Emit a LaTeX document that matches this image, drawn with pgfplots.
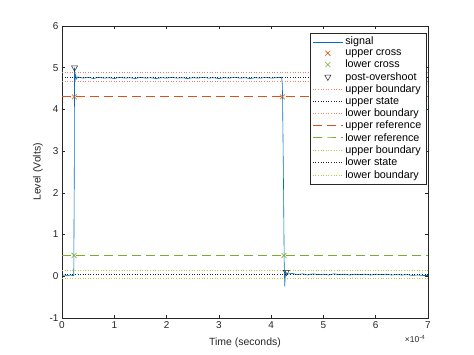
\documentclass[border=0pt]{standalone}
\usepackage{pgfplots}
\pgfplotsset{compat=1.18}
\usepackage{fontspec}
\setmainfont{Liberation Sans}
\definecolor{mblue}{rgb}{0,0.447,0.741}
\definecolor{mred}{rgb}{0.850,0.325,0.098}
\definecolor{mgreen}{rgb}{0.466,0.674,0.188}
\definecolor{mgray}{rgb}{0.15,0.15,0.15}
\definecolor{lred}{rgb}{0.93,0.50,0.40}
\definecolor{lyel}{rgb}{0.75,0.78,0.30}
\definecolor{dstate}{rgb}{0.10,0.12,0.25}
\pgfplotsset{myleg/.style={legend image code/.code={\draw[mark repeat=2,mark phase=2,##1] plot coordinates {(0bp,0bp) (15bp,0bp) (30bp,0bp)};}}}
\begin{document}
\begin{tikzpicture}
\useasboundingbox (-62bp,-37bp) rectangle (412bp,318bp);
\begin{axis}[
  at={(0bp,0bp)}, anchor=south west,
  scale only axis,
  width=366bp, height=292bp,
  xmin=0, xmax=7, ymin=-1, ymax=6,
  xtick={0,1,...,7}, ytick={-1,0,...,6},
  tick align=inside,
  major tick length=3bp,
  axis line style={mgray, line width=0.5pt},
  every tick/.style={mgray, line width=0.5pt},
  tick label style={font=\fontsize{10}{12}\selectfont, text=mgray},
  /pgf/number format/assume math mode=true,
  xlabel={Time (seconds)},
  ylabel={Level (Volts)},
  label style={font=\fontsize{10.5}{12}\selectfont, text=mgray},
  xlabel style={yshift=-3bp},
  ylabel style={yshift=0bp},
  legend cell align=left,
  legend style={at={(0.9945,0.976)}, anchor=north east, draw=mgray,
    font=\fontsize{10.8}{12}\selectfont, row sep=-0.9bp,
    inner xsep=2.5bp, inner ysep=2bp,
    /tikz/every even column/.append style={column sep=1bp}},
  myleg,
]
\addplot[draw=mblue, line width=0.6pt] coordinates {
(0,0.02) (0.05,0.03) (0.1,0.01) (0.15,0.03) (0.2,0.02) (0.225,0.02)
(0.235,2.5) (0.24,5.0) (0.25,4.68) (0.26,4.82) (0.28,4.73) (0.3,4.78)
(0.4,4.75) (0.5,4.77) (0.6,4.74) (0.7,4.77) (0.8,4.75) (0.9,4.76) (1.0,4.74)
(1.1,4.77) (1.2,4.75) (1.3,4.76) (1.4,4.74) (1.5,4.77) (1.6,4.75) (1.7,4.76)
(1.8,4.74) (1.9,4.76) (2.0,4.75) (2.1,4.77) (2.2,4.75) (2.3,4.76) (2.4,4.74)
(2.5,4.76) (2.6,4.75) (2.7,4.77) (2.8,4.75) (2.9,4.76) (3.0,4.74) (3.1,4.76)
(3.2,4.75) (3.3,4.77) (3.4,4.75) (3.5,4.76) (3.6,4.74) (3.7,4.76) (3.8,4.75)
(3.9,4.77) (4.0,4.75) (4.1,4.76) (4.2,4.77)
(4.215,4.6) (4.235,2.4) (4.25,0.3) (4.26,-0.24) (4.275,0.12) (4.3,0.05)
(4.4,0.07) (4.5,0.04) (4.6,0.06) (4.7,0.03) (4.8,0.06) (4.9,0.04) (5.0,0.05)
(5.1,0.03) (5.2,0.06) (5.3,0.04) (5.4,0.05) (5.5,0.03) (5.6,0.05) (5.7,0.04)
(5.8,0.05) (5.9,0.03) (6.0,0.05) (6.1,0.04) (6.2,0.05) (6.3,0.03) (6.4,0.04)
(6.5,0.03) (6.6,0.04) (6.7,0.02) (6.8,0.03) (6.9,0.02) (7.0,0.02)};
\addlegendentry{signal}
\addplot[only marks, mark=x, color=mred, mark size=3.5bp, line width=0.6pt, myleg]
  coordinates {(0.237,4.3) (4.215,4.3)};
\addlegendentry{upper cross}
\addplot[only marks, mark=x, color=mgreen, mark size=3.5bp, line width=0.6pt, myleg]
  coordinates {(0.23,0.5) (4.245,0.5)};
\addlegendentry{lower cross}
\addplot[only marks, mark=triangle, mark options={rotate=180}, color=mgray, mark size=3.5bp, line width=0.5pt, myleg]
  coordinates {(0.24,5.0) (4.29,0.1)};
\addlegendentry{post-overshoot}
\addplot[draw=lred, dotted, line width=0.6pt] coordinates {(0,4.88) (7,4.88)};
\addlegendentry{upper boundary}
\addplot[draw=dstate, dotted, line width=0.6pt] coordinates {(0,4.78) (7,4.78)};
\addlegendentry{upper state}
\addplot[draw=lred, dotted, line width=0.6pt] coordinates {(0,4.68) (7,4.68)};
\addlegendentry{lower boundary}
\addplot[draw=mred, dash pattern=on 9bp off 5bp, line width=1pt] coordinates {(0,4.3) (7,4.3)};
\addlegendentry{upper reference}
\addplot[draw=mgreen, dash pattern=on 9bp off 5bp, line width=1pt] coordinates {(0,0.5) (7,0.5)};
\addlegendentry{lower reference}
\addplot[draw=lyel, dotted, line width=0.6pt] coordinates {(0,0.14) (7,0.14)};
\addlegendentry{upper boundary}
\addplot[draw=dstate, dotted, line width=0.6pt] coordinates {(0,0.04) (7,0.04)};
\addlegendentry{lower state}
\addplot[draw=lyel, dotted, line width=0.6pt] coordinates {(0,-0.06) (7,-0.06)};
\addlegendentry{lower boundary}
\end{axis}
\node[anchor=north, inner sep=0pt, font=\fontsize{8.5}{10}\selectfont, text=mgray] at (353bp,-17bp) {×10\textsuperscript{-4}};
\end{tikzpicture}
\end{document}
